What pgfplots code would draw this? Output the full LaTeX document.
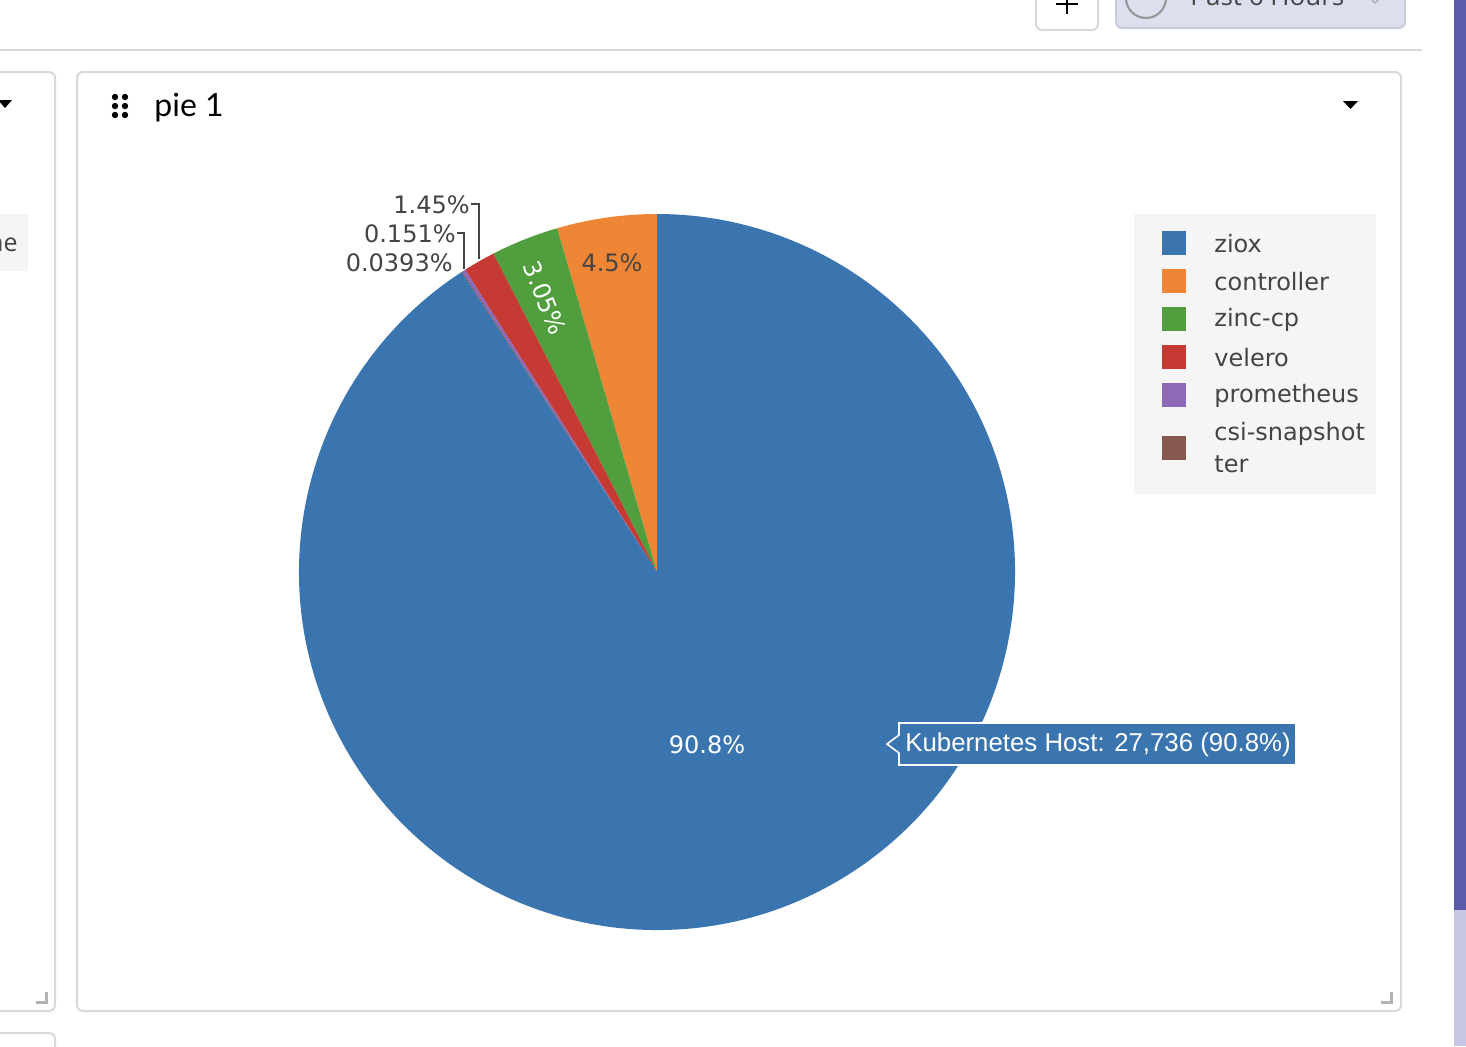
\documentclass[border=0pt]{standalone}
\usepackage{pgfplots}
\pgfplotsset{compat=1.18}
\usepackage{pgfplotstable}
\usepackage{fontspec}
\setmainfont{DejaVu Sans}
\newfontfamily\latof{Lato}
\newfontfamily\arialf{Liberation Sans}
\newfontfamily\osf{Open Sans}
\definecolor{cblue}{HTML}{3B75AF}
\definecolor{corange}{HTML}{EF8636}
\definecolor{cgreen}{HTML}{519E3E}
\definecolor{cred}{HTML}{C53A32}
\definecolor{cpurple}{HTML}{8D69B8}
\definecolor{cbrown}{HTML}{84584E}
\definecolor{txt}{HTML}{444444}
\definecolor{framec}{HTML}{D9D9D9}
\definecolor{legbg}{HTML}{F5F5F5}
\definecolor{scrolldark}{HTML}{5B5BAB}
\definecolor{scrolllight}{HTML}{C6C6E4}
\definecolor{btnbg}{HTML}{DDDFEF}
\definecolor{btnline}{HTML}{CACBD8}

\pgfplotstableread{
name value
controller 1375
zinc-cp 932
velero 443
prometheus 46
csi-snapshotter 12
ziox 27736
}\piedata

\begin{document}%
\pgfplotstablegetelem{0}{value}\of\piedata\let\vA\pgfplotsretval%
\pgfplotstablegetelem{1}{value}\of\piedata\let\vB\pgfplotsretval%
\pgfplotstablegetelem{2}{value}\of\piedata\let\vC\pgfplotsretval%
\pgfplotstablegetelem{3}{value}\of\piedata\let\vD\pgfplotsretval%
\pgfplotstablegetelem{4}{value}\of\piedata\let\vE\pgfplotsretval%
\pgfplotstablegetelem{5}{value}\of\piedata\let\vF\pgfplotsretval%
\edef\tot{\fpeval{\vA+\vB+\vC+\vD+\vE+\vF}}%
\edef\aA{90}%
\edef\aB{\fpeval{\aA+360*\vA/\tot}}%
\edef\aC{\fpeval{\aB+360*\vB/\tot}}%
\edef\aD{\fpeval{\aC+360*\vC/\tot}}%
\edef\aE{\fpeval{\aD+360*\vD/\tot}}%
\edef\aF{\fpeval{\aE+360*\vE/\tot}}%
\edef\aG{\fpeval{\aF+360*\vF/\tot}}%
\begin{tikzpicture}
\begin{axis}[hide axis, x=0.5pt, y=0.5pt, xmin=0, xmax=1466, ymin=0, ymax=1046,
  y dir=reverse, scale only axis, clip=true]
\coordinate (bl) at (0,1046);
\coordinate (tr) at (1466,0);
\fill[white] (0,0) rectangle (1466,1046);
% top bar
\draw[framec, line width=1pt] (0,50) -- (1422,50);
\draw[framec, line width=1pt, fill=white, rounded corners=3pt] (1036,-10) rectangle (1098,30);
\draw[black, line width=1.3pt] (1056,4) -- (1078,4) (1067,-10) -- (1067,14);
\draw[btnline, line width=1pt, fill=btnbg, rounded corners=3pt] (1116,-10) rectangle (1405,28);
\draw[gray!80, line width=1.1pt] (1146,-2) circle[radius=10pt];
\draw[gray!80, line width=1.1pt] (1146,-2) -- (1138,-12);
\node[anchor=base west, inner sep=0pt, text=txt, font=\osf\fontsize{13}{15}\selectfont] at (1190,5) {Past 6 Hours};
\draw[gray!60, line width=0.8pt] (1369,-3) -- (1375,3) -- (1381,-3);
% scrollbar
\fill[scrolldark] (1454,0) rectangle (1466,910);
\fill[scrolllight] (1454,910) rectangle (1466,1046);
% left panel
\draw[framec, line width=1pt, rounded corners=3pt] (-20,72) rectangle (55,1011);
\draw[framec, line width=1pt, rounded corners=3pt] (-20,1033) rectangle (55,1090);
\fill[black] (-2,100) -- (12,100) -- (5,108) -- cycle;
\fill[legbg] (-10,214) rectangle (28,271);
\node[anchor=east, inner sep=0pt, text=txt, font=\osf\fontsize{12.5}{15}\selectfont] at (18,245) {ne};
\draw[gray!60, line width=1.5pt] (36,1002) -- (46,1002) -- (46,992);
% main panel
\draw[framec, line width=1pt, rounded corners=3pt] (77,72) rectangle (1401,1011);
\draw[gray!60, line width=1.5pt] (1381,1002) -- (1391,1002) -- (1391,992);
\fill[black] (115,97) circle[radius=1.6pt] (125,97) circle[radius=1.6pt]
  (115,106) circle[radius=1.6pt] (125,106) circle[radius=1.6pt]
  (115,115) circle[radius=1.6pt] (125,115) circle[radius=1.6pt];
\node[anchor=west, inner sep=0pt, font=\latof\fontsize{16}{18}\selectfont] at (154,108) {pie 1};
\fill[black] (1343,101) -- (1358,101) -- (1350.5,109) -- cycle;
% pie slices
\fill[corange] (657,572) -- ++(\aA:179pt) arc[start angle=\aA, end angle=\aB, radius=179pt] -- cycle;
\fill[cgreen] (657,572) -- ++(\aB:179pt) arc[start angle=\aB, end angle=\aC, radius=179pt] -- cycle;
\fill[cred] (657,572) -- ++(\aC:179pt) arc[start angle=\aC, end angle=\aD, radius=179pt] -- cycle;
\fill[cpurple] (657,572) -- ++(\aD:179pt) arc[start angle=\aD, end angle=\aE, radius=179pt] -- cycle;
\fill[cbrown] (657,572) -- ++(\aE:179pt) arc[start angle=\aE, end angle=\aF, radius=179pt] -- cycle;
\fill[cblue] (657,572) -- ++(\aF:179pt) arc[start angle=\aF, end angle=\aG, radius=179pt] -- cycle;
% slice labels
\node[text=txt, inner sep=0pt, font=\fontsize{12}{14}\selectfont] at (612,263) {4.5\%};
\node[text=white, inner sep=0pt, rotate=-68, font=\fontsize{12}{14}\selectfont] at (545,298) {3.05\%};
\node[text=white, inner sep=0pt, font=\fontsize{12}{14}\selectfont] at (707,745) {90.8\%};
\node[text=txt, anchor=east, inner sep=0pt, font=\fontsize{12}{14}\selectfont] at (470,205) {1.45\%};
\node[text=txt, anchor=east, inner sep=0pt, font=\fontsize{12}{14}\selectfont] at (456,234) {0.151\%};
\node[text=txt, anchor=east, inner sep=0pt, font=\fontsize{12}{14}\selectfont] at (453,263) {0.0393\%};
\draw[txt, line width=1.4pt] (471,204) -- (479,204) -- (479,259);
\draw[txt, line width=1.4pt] (457,233) -- (464,233) -- (464,269);
% legend
\fill[legbg] (1134,214) rectangle (1376,494);
\fill[cblue] (1162,231) rectangle (1186,255);
\fill[corange] (1162,269) rectangle (1186,293);
\fill[cgreen] (1162,307) rectangle (1186,331);
\fill[cred] (1162,345) rectangle (1186,369);
\fill[cpurple] (1162,383) rectangle (1186,407);
\fill[cbrown] (1162,436) rectangle (1186,460);
\node[text=txt, anchor=west, inner sep=0pt, font=\fontsize{12}{14}\selectfont] at (1214,244) {ziox};
\node[text=txt, anchor=west, inner sep=0pt, font=\fontsize{12}{14}\selectfont] at (1214,282) {controller};
\node[text=txt, anchor=west, inner sep=0pt, font=\fontsize{12}{14}\selectfont] at (1214,320) {zinc-cp};
\node[text=txt, anchor=west, inner sep=0pt, font=\fontsize{12}{14}\selectfont] at (1214,358) {velero};
\node[text=txt, anchor=west, inner sep=0pt, font=\fontsize{12}{14}\selectfont] at (1214,396) {prometheus};
\node[text=txt, anchor=west, inner sep=0pt, font=\fontsize{12}{14}\selectfont] at (1214,434) {csi-snapshot};
\node[text=txt, anchor=west, inner sep=0pt, font=\fontsize{12}{14}\selectfont] at (1214,464) {ter};
% tooltip
\draw[white, line width=0.8pt, fill=cblue] (899,723) -- (1296,723) -- (1296,765) -- (899,765) -- (899,753) -- (887,744) -- (899,735) -- cycle;
\node[text=white, anchor=west, inner sep=0pt, font=\arialf\fontsize{12.9}{15}\selectfont] at (905,745) {Kubernetes Host: 27,736 (90.8\%)};
\end{axis}
\pgfresetboundingbox
\path[use as bounding box] (bl) rectangle (tr);
\end{tikzpicture}%
\end{document}
